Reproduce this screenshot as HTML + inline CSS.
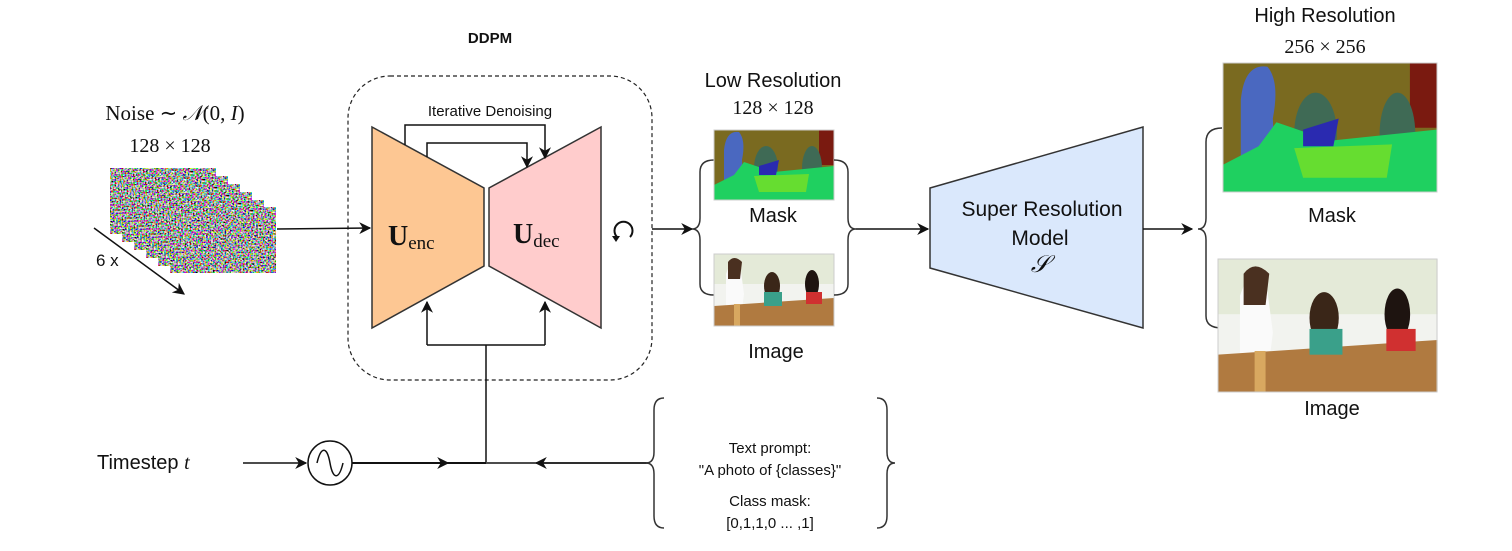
<!DOCTYPE html>
<html><head><meta charset="utf-8"><style>
html,body{margin:0;padding:0;background:#fff;}
svg{display:block;}
text{font-family:"Liberation Sans",sans-serif;fill:#111;}
.serif{font-family:"Liberation Serif",serif;}
</style></head><body>
<svg width="1512" height="551" viewBox="0 0 1512 551" xmlns="http://www.w3.org/2000/svg">
<defs>
<marker id="ar" viewBox="0 0 10 10" refX="9" refY="5" markerWidth="12" markerHeight="12" orient="auto-start-reverse" markerUnits="userSpaceOnUse">
<path d="M0,0 L10,5 L0,10 L3,5 z" fill="#111"/></marker>
<filter id="nz" x="0" y="0" width="100%" height="100%">
<feTurbulence type="fractalNoise" baseFrequency="0.6" numOctaves="1" seed="3"/>
<feComponentTransfer><feFuncR type="linear" slope="3.2" intercept="-1.2"/><feFuncG type="linear" slope="3.2" intercept="-1.2"/><feFuncB type="linear" slope="3.2" intercept="-1.2"/><feFuncA type="linear" slope="0" intercept="1"/></feComponentTransfer>
</filter>
<g id="noise"><rect width="106" height="66" fill="#8a7aa0"/><rect width="106" height="66" filter="url(#nz)"/></g>
<g id="mask">
<rect width="120" height="70" fill="#7a6a20"/>
<rect x="105" y="0" width="15" height="35" fill="#7a1a10"/>
<path d="M10,70 L10,20 Q12,0 25,2 Q32,10 28,30 L30,70 z" fill="#4a68c0"/>
<ellipse cx="52" cy="38" rx="12" ry="22" fill="#3f6a55"/>
<ellipse cx="98" cy="38" rx="10" ry="22" fill="#3f6a55"/>
<path d="M0,55 L20,45 L30,32 L60,42 L120,36 L120,70 L0,70z" fill="#1fd060"/>
<path d="M40,46 L95,44 L92,62 L45,62 z" fill="#66dd30"/>
<path d="M45,36 L65,30 L62,45 L45,45z" fill="#2a2ab0"/>
</g>
<g id="photo">
<rect width="120" height="72" fill="#f2f3ef"/>
<rect x="0" y="0" width="120" height="30" fill="#e4ead8"/>
<path d="M12,72 L12,20 Q18,2 26,10 L30,40 L26,72z" fill="#fafafa"/>
<path d="M14,8 Q20,0 28,8 L26,25 L14,25z" fill="#4a3020"/>
<path d="M0,52 L120,44 L120,72 L0,72z" fill="#b07a40"/>
<ellipse cx="58" cy="32" rx="8" ry="14" fill="#3a2618"/>
<rect x="50" y="38" width="18" height="14" fill="#3aa08a"/>
<ellipse cx="98" cy="30" rx="7" ry="14" fill="#1e1410"/>
<rect x="92" y="38" width="16" height="12" fill="#d03030"/>
<rect x="20" y="50" width="6" height="22" fill="#d8a860"/>
</g>
</defs>

<text x="490" y="43" font-size="15" font-weight="bold" text-anchor="middle">DDPM</text>
<rect x="348" y="76" width="304" height="304" rx="42" fill="none" stroke="#222" stroke-width="1.2" stroke-dasharray="4,3"/>

<text x="175" y="120" font-size="21" class="serif" text-anchor="middle">Noise ∼ <tspan font-style="italic">𝒩</tspan>(0, <tspan font-style="italic">I</tspan>)</text>
<text x="170" y="152" font-size="20" class="serif" text-anchor="middle">128 × 128</text>
<use href="#noise" x="110" y="168"/>
<use href="#noise" x="122" y="176"/>
<use href="#noise" x="134" y="184"/>
<use href="#noise" x="146" y="192"/>
<use href="#noise" x="158" y="200"/>
<use href="#noise" x="170" y="207"/>
<line x1="94" y1="228" x2="184" y2="294" stroke="#111" stroke-width="1.5" marker-end="url(#ar)"/>
<text x="96" y="266" font-size="17">6 x</text>
<line x1="277" y1="229" x2="370" y2="228" stroke="#111" stroke-width="1.5" marker-end="url(#ar)"/>

<polygon points="372,127 484,188 484,266 372,328" fill="#fdc793" stroke="#333" stroke-width="1.5"/>
<polygon points="601,127 489,188 489,266 601,328" fill="#ffcccc" stroke="#333" stroke-width="1.5"/>
<text x="388" y="245" font-size="28" class="serif" font-weight="bold">U<tspan font-size="19" font-weight="normal" dy="4">enc</tspan></text>
<text x="513" y="243" font-size="28" class="serif" font-weight="bold">U<tspan font-size="19" font-weight="normal" dy="4">dec</tspan></text>
<text x="490" y="116" font-size="15" text-anchor="middle">Iterative Denoising</text>
<polyline points="405,145 405,125 545,125 545,158" fill="none" stroke="#111" stroke-width="1.5" marker-end="url(#ar)"/>
<polyline points="427,157 427,143 527,143 527,167" fill="none" stroke="#111" stroke-width="1.5" marker-end="url(#ar)"/>
<polyline points="486,462 486,345" fill="none" stroke="#111" stroke-width="1.5"/>
<polyline points="427,345 545,345" fill="none" stroke="#111" stroke-width="1.5"/>
<line x1="427" y1="345" x2="427" y2="302" stroke="#111" stroke-width="1.5" marker-end="url(#ar)"/>
<line x1="545" y1="345" x2="545" y2="302" stroke="#111" stroke-width="1.5" marker-end="url(#ar)"/>
<path d="M617,237 A9,9 0 1 1 630,237" fill="none" stroke="#111" stroke-width="2"/>
<path d="M612,236 L620,236 L616,242z" fill="#111"/>

<line x1="652" y1="229" x2="692" y2="229" stroke="#111" stroke-width="1.5" marker-end="url(#ar)"/>
<path d="M714,160 Q700,160 700,172 L700,218 Q700,229 692,229 Q700,229 700,240 L700,284 Q700,295 714,295" fill="none" stroke="#333" stroke-width="1.5"/>
<text x="773" y="87" font-size="20" text-anchor="middle">Low Resolution</text>
<text x="773" y="114" font-size="20" class="serif" text-anchor="middle">128 × 128</text>
<use href="#mask" x="714" y="130"/>
<rect x="714" y="130" width="120" height="70" fill="none" stroke="#ccc"/>
<text x="773" y="222" font-size="20" text-anchor="middle">Mask</text>
<use href="#photo" x="714" y="254"/>
<rect x="714" y="254" width="120" height="72" fill="none" stroke="#ccc"/>
<text x="776" y="358" font-size="20" text-anchor="middle">Image</text>
<path d="M834,160 Q848,160 848,172 L848,218 Q848,229 856,229 Q848,229 848,240 L848,284 Q848,295 834,295" fill="none" stroke="#333" stroke-width="1.5"/>
<line x1="856" y1="229" x2="928" y2="229" stroke="#111" stroke-width="1.5" marker-end="url(#ar)"/>

<polygon points="930,188 1143,127 1143,328 930,268" fill="#dae8fc" stroke="#333" stroke-width="1.5"/>
<text x="1042" y="216" font-size="21" text-anchor="middle">Super Resolution</text>
<text x="1040" y="245" font-size="21" text-anchor="middle">Model</text>
<text x="1040" y="272" font-size="24" class="serif" font-style="italic" text-anchor="middle">𝒮</text>
<line x1="1143" y1="229" x2="1192" y2="229" stroke="#111" stroke-width="1.5" marker-end="url(#ar)"/>
<path d="M1222,128 Q1206,128 1206,142 L1206,218 Q1206,229 1198,229 Q1206,229 1206,240 L1206,316 Q1206,328 1222,328" fill="none" stroke="#333" stroke-width="1.5"/>

<text x="1325" y="22" font-size="20" text-anchor="middle">High Resolution</text>
<text x="1325" y="53" font-size="20" class="serif" text-anchor="middle">256 × 256</text>
<g transform="translate(1223,63) scale(1.78,1.85)"><use href="#mask"/></g>
<rect x="1223" y="63" width="214" height="129" fill="none" stroke="#ccc"/>
<text x="1332" y="222" font-size="20" text-anchor="middle">Mask</text>
<g transform="translate(1218,259) scale(1.83,1.84)"><use href="#photo"/></g>
<rect x="1218" y="259" width="219" height="133" fill="none" stroke="#ccc"/>
<text x="1332" y="415" font-size="20" text-anchor="middle">Image</text>

<text x="97" y="469" font-size="20">Timestep <tspan class="serif" font-style="italic">t</tspan></text>
<line x1="243" y1="463" x2="306" y2="463" stroke="#111" stroke-width="1.5" marker-end="url(#ar)"/>
<circle cx="330" cy="463" r="22" fill="#fff" stroke="#111" stroke-width="1.5"/>
<path d="M317,463 C321,446 327,446 330,463 C333,480 339,480 343,463" fill="none" stroke="#111" stroke-width="1.5"/>
<line x1="352" y1="463" x2="486" y2="463" stroke="#111" stroke-width="2"/>
<line x1="352" y1="463" x2="448" y2="463" stroke="#111" stroke-width="2" marker-end="url(#ar)"/>
<line x1="648" y1="463" x2="486" y2="463" stroke="#111" stroke-width="1.5"/>
<line x1="648" y1="463" x2="536" y2="463" stroke="#111" stroke-width="1.5" marker-end="url(#ar)"/>
<path d="M664,398 Q654,398 654,410 L654,452 Q654,463 646,463 Q654,463 654,474 L654,516 Q654,528 664,528" fill="none" stroke="#333" stroke-width="1.5"/>
<path d="M877,398 Q887,398 887,410 L887,452 Q887,463 895,463 Q887,463 887,474 L887,516 Q887,528 877,528" fill="none" stroke="#333" stroke-width="1.5"/>
<text x="770" y="453" font-size="15" text-anchor="middle">Text prompt:</text>
<text x="770" y="475" font-size="15" text-anchor="middle">"A photo of {classes}"</text>
<text x="770" y="506" font-size="15" text-anchor="middle">Class mask:</text>
<text x="770" y="528" font-size="15" text-anchor="middle">[0,1,1,0 ... ,1]</text>
</svg>
</body></html>
